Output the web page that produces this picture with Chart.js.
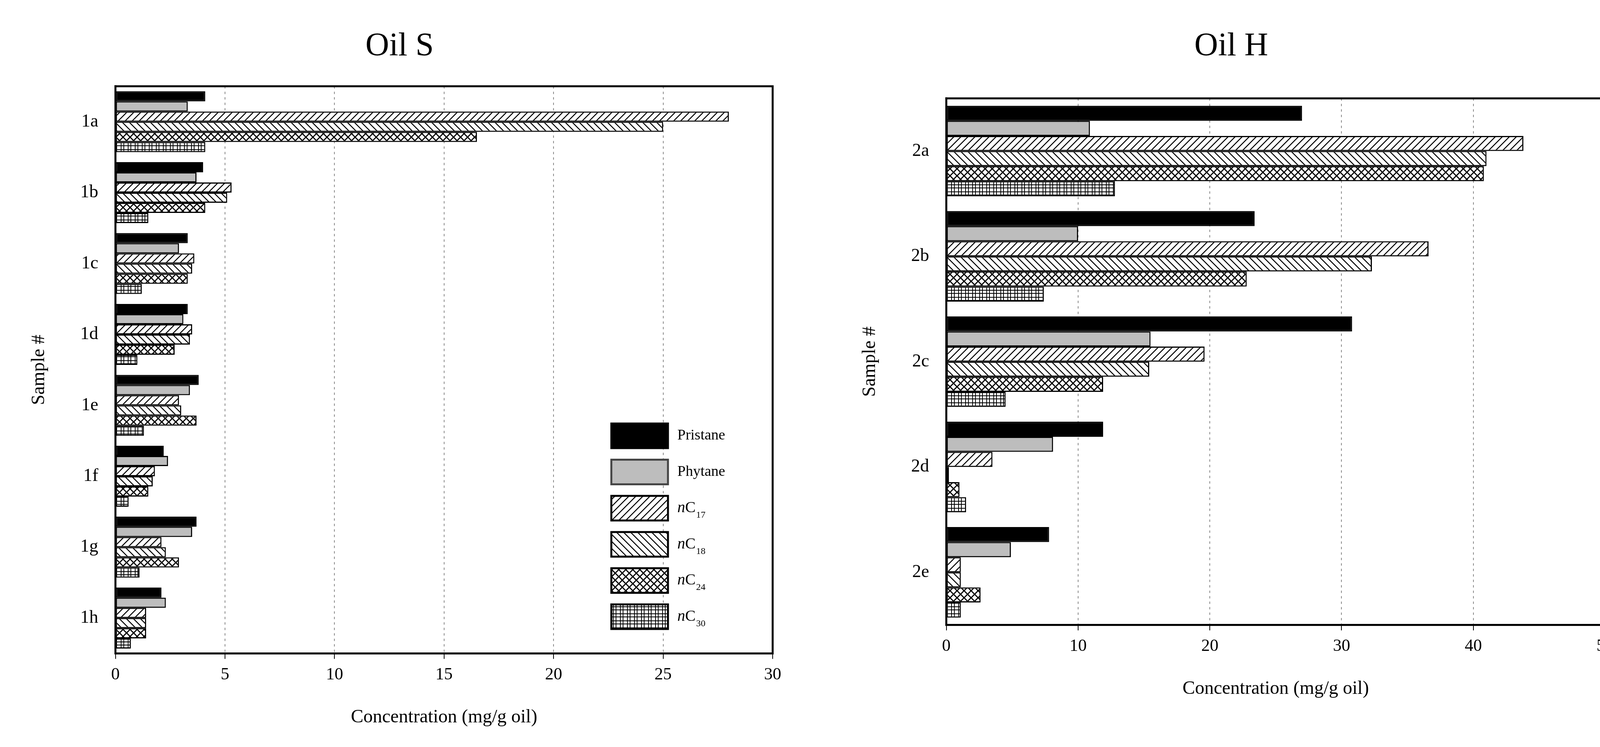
<!DOCTYPE html>
<html><head><meta charset="utf-8">
<script src="https://cdn.jsdelivr.net/npm/chart.js@4/dist/chart.umd.min.js"></script>
<style>
body{margin:0;background:#fff;width:4164px;height:1912px;position:relative;overflow:hidden}
canvas{position:absolute;top:0}
</style></head><body>
<canvas id="cl" width="2080" height="1912" style="left:0;width:2080px;height:1912px"></canvas>
<canvas id="cr" width="2074" height="1912" style="left:2090px;width:2074px;height:1912px"></canvas>
<script>
const seriesNames = ['Pristane','Phytane','nC17','nC18','nC24','nC30'];
const legendMain = ['Pristane','Phytane','nC','nC','nC','nC'];
const legendSub = ['','','17','18','24','30'];
const catsS = ['1a','1b','1c','1d','1e','1f','1g','1h'];
const pristaneS = [4.1,4.0,3.3,3.3,3.8,2.2,3.7,2.1];
const phytaneS  = [3.3,3.7,2.9,3.1,3.4,2.4,3.5,2.3];
const c17S = [28.0,5.3,3.6,3.5,2.9,1.8,2.1,1.4];
const c18S = [25.0,5.1,3.5,3.4,3.0,1.7,2.3,1.4];
const c24S = [16.5,4.1,3.3,2.7,3.7,1.5,2.9,1.4];
const c30S = [4.1,1.5,1.2,1.0,1.3,0.6,1.1,0.7];
const catsH = ['2a','2b','2c','2d','2e'];
const pristaneH = [27.0,23.4,30.8,11.9,7.8];
const phytaneH  = [10.9,10.0,15.5,8.1,4.9];
const c17H = [43.8,36.6,19.6,3.5,1.1];
const c18H = [41.0,32.3,15.4,0.2,1.1];
const c24H = [40.8,22.8,11.9,1.0,2.6];
const c30H = [12.8,7.4,4.5,1.5,1.1];

function pat(kind){
  const s=18,c=document.createElement('canvas');c.width=s;c.height=s;const g=c.getContext('2d');
  g.fillStyle='#fff';g.fillRect(0,0,s,s);g.strokeStyle='#000';g.lineWidth=2.5;
  const line=(a,b,cc,d)=>{g.beginPath();g.moveTo(a,b);g.lineTo(cc,d);g.stroke();};
  if(kind==='f'){line(-2,s+2,s+2,-2);line(-2,2,2,-2);line(s-2,s+2,s+2,s-2);}
  if(kind==='b'){line(-2,-2,s+2,s+2);line(s-2,-2,s+2,2);line(-2,s-2,2,s+2);}
  if(kind==='x'){g.lineWidth=3;line(-2,s+2,s+2,-2);line(-2,-2,s+2,s+2);line(-2,2,2,-2);line(s-2,s+2,s+2,s-2);line(s-2,-2,s+2,2);line(-2,s-2,2,s+2);}
  if(kind==='g'){g.lineWidth=2;line(4,0,4,s);line(11,0,11,s);line(0,5,s,5);line(0,13,s,13);}
  return g.createPattern(c,'repeat');
}
const fills=()=>['#000','#bdbdbd',pat('f'),pat('b'),pat('x'),pat('g')];

const frame={id:'frame',afterDraw(ch){const a=ch.chartArea,g=ch.ctx;g.save();g.strokeStyle='#000';g.lineWidth=5;g.strokeRect(a.left,a.top,a.right-a.left,a.bottom-a.top);g.restore();}};

function makeChart(id,cats,vals,title,xmax,step,legend,pad,titleGap){
  const f=fills();
  const datasets=vals.map((v,i)=>({label:seriesNames[i],data:v,backgroundColor:f[i],borderColor:'#000',borderWidth:3,borderSkipped:false,categoryPercentage:0.86,barPercentage:1}));
  const legendPlugin={id:'lg',afterDatasetsDraw(ch){
    if(!legend)return;const g=ch.ctx;const x0=1565,y0=1084,bw=145,bh=63,gap=92.6;
    for(let i=0;i<6;i++){const y=y0+i*gap;g.fillStyle=f[i];g.fillRect(x0,y,bw,bh);g.lineWidth=5;g.strokeStyle=i==1?'#444':'#000';g.strokeRect(x0,y,bw,bh);
      g.fillStyle='#000';g.textBaseline='middle';const tx=x0+bw+24;
      if(i<2){g.font='38px "Liberation Serif"';g.fillText(legendMain[i],tx,y+bh/2);}
      else{g.font='italic 40px "Liberation Serif"';g.fillText('n',tx,y+bh/2);g.font='40px "Liberation Serif"';g.fillText('C',tx+20,y+bh/2);g.font='24px "Liberation Serif"';g.fillText(legendSub[i],tx+48,y+bh/2+18);}
    }}};
  return new Chart(document.getElementById(id),{type:'bar',data:{labels:cats,datasets},plugins:[legendPlugin,frame],
    options:{indexAxis:'y',responsive:false,animation:false,devicePixelRatio:1,
      layout:{padding:pad},
      plugins:{legend:{display:false},tooltip:{enabled:false},title:{display:true,text:title,color:'#000',font:{family:'Liberation Serif',size:84,weight:'normal'},padding:{top:0,bottom:titleGap}}},
      scales:{
        x:{min:0,max:xmax,ticks:{stepSize:step,color:'#000',font:{family:'Liberation Serif',size:44},padding:14},
          grid:{color:'#888',lineWidth:2,drawTicks:true,tickLength:14,tickColor:'#000'},border:{display:true,color:'#000',width:5,dash:[6,8]},
          title:{display:true,text:'Concentration (mg/g oil)',color:'#000',font:{family:'Liberation Serif',size:48},padding:{top:40}}},
        y:{ticks:{color:'#000',font:{family:'Liberation Serif',size:46},padding:36},grid:{display:false},border:{color:'#000',width:5},
          title:{display:true,text:'Sample #',color:'#000',font:{family:'Liberation Serif',size:48},padding:{bottom:40}}}
      }}});
}
makeChart('cl',catsS,[pristaneS,phytaneS,c17S,c18S,c24S,c30S],'Oil S',30,5,true,{top:70,left:68,right:102,bottom:43},50);
makeChart('cr',catsH,[pristaneH,phytaneH,c17H,c18H,c24H,c30H],'Oil H',50,10,false,{top:70,left:105,right:55,bottom:116},81);
</script>
</body></html>
